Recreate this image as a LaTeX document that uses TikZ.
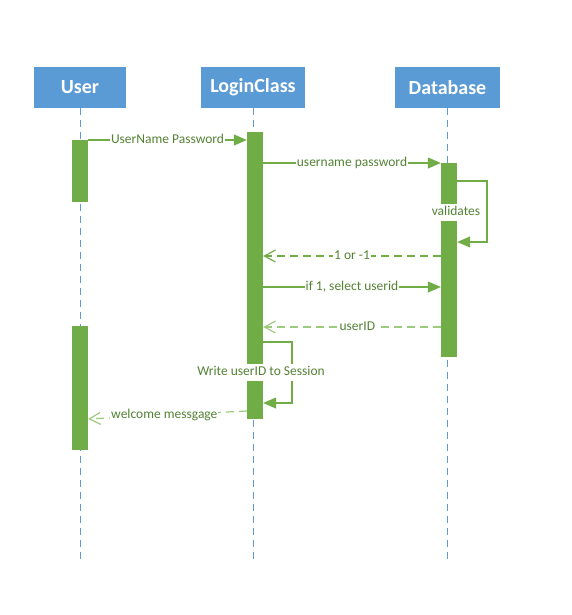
\documentclass[tikz,border=0pt]{standalone}
\usepackage{fontspec}
\setmainfont{Carlito}
\usetikzlibrary{arrows.meta}
\definecolor{hdr}{HTML}{5B9BD5}
\definecolor{grn}{HTML}{70AD47}
\definecolor{grntxt}{HTML}{548235}
\definecolor{grnlt}{HTML}{9CCB7E}
\begin{document}
\begin{tikzpicture}[x=1pt,y=-1pt,
  head/.style={fill=hdr, text=white, font=\fontsize{20}{24}\selectfont\bfseries, minimum height=41pt, inner sep=0pt},
  bar/.style={fill=grn, minimum width=16pt, inner sep=0pt, anchor=north},
  life/.style={draw=hdr, dash pattern=on 7pt off 5pt, line width=0.8pt},
  msg/.style={draw=grn, line width=1.2pt, -{Triangle[length=13pt,width=11pt]}},
  ret/.style={draw=grn, line width=1.2pt, dash pattern=on 8pt off 5pt, -{Straight Barb[length=11pt,width=12pt]}},
  retlt/.style={draw=grnlt, line width=1.2pt, dash pattern=on 8pt off 5pt, -{Straight Barb[length=11pt,width=12pt]}},
  lbl/.style={fill=white, text=grntxt, font=\fontsize{13.5}{16}\selectfont, inner xsep=1pt, inner ysep=2pt, text height=10pt, text depth=3pt}
]
\useasboundingbox (0,0) rectangle (571,615);
% heads
\node[head, minimum width=92pt] (U) at (80,87.5) {User};
\node[head, minimum width=104pt] (L) at (253,87.5) {LoginClass};
\node[head, minimum width=105pt] (D) at (447.5,87.5) {Database};
% lifeline ends
\coordinate (Uend) at (80,560);
\coordinate (Lend) at (253,560);
\coordinate (Dend) at (447,560);
\draw[life] (U.south -| Uend) -- (Uend);
\draw[life] (L.south -| Lend) -- (Lend);
\draw[life] (D.south -| Dend) -- (Dend);
% activation bars
\node[bar, minimum height=62pt] (ub1) at (80,140) {};
\node[bar, minimum height=124pt] (ub2) at (80,326) {};
\node[bar, minimum height=287pt] (lb) at (255,132) {};
\node[bar, minimum height=194pt] (db) at (449,163) {};
% loop / message helper coordinates
\coordinate (v1) at (487,181);
\coordinate (v2) at (487,242);
\coordinate (w1) at (292,342);
\coordinate (w2) at (292,403);
\coordinate (y4) at (0,256);
\coordinate (y5) at (0,287);
\coordinate (y6) at (0,327);
\coordinate (y8a) at (0,411);
\coordinate (y8b) at (0,419);
% messages
\draw[msg] (ub1.north east) -- node[lbl]{UserName Password} (ub1.north east -| lb.west);
\draw[msg] (db.north west -| lb.east) -- node[lbl]{username password} (db.north west);
\draw[msg] (db.east |- v1) -- (v1) -- (v2) -- (db.east |- v2);
\node[lbl] (val) at (456,212) {validates};
\draw[ret] (db.west |- y4) -- node[lbl]{1 or -1} (lb.east |- y4);
\draw[msg] (lb.east |- y5) -- node[lbl]{if 1, select userid} (db.west |- y5);
\draw[retlt] (db.west |- y6) -- node[lbl, pos=0.47]{userID} (lb.east |- y6);
\draw[msg] (lb.east |- w1) -- (w1) -- (w2) -- (lb.east |- w2);
\node[lbl] (wr) at (261,372) {Write userID to Session};
\draw[retlt] (lb.west |- y8a) -- node[lbl, pos=0.52]{welcome messgage} (ub2.east |- y8b);
\end{tikzpicture}
\end{document}
